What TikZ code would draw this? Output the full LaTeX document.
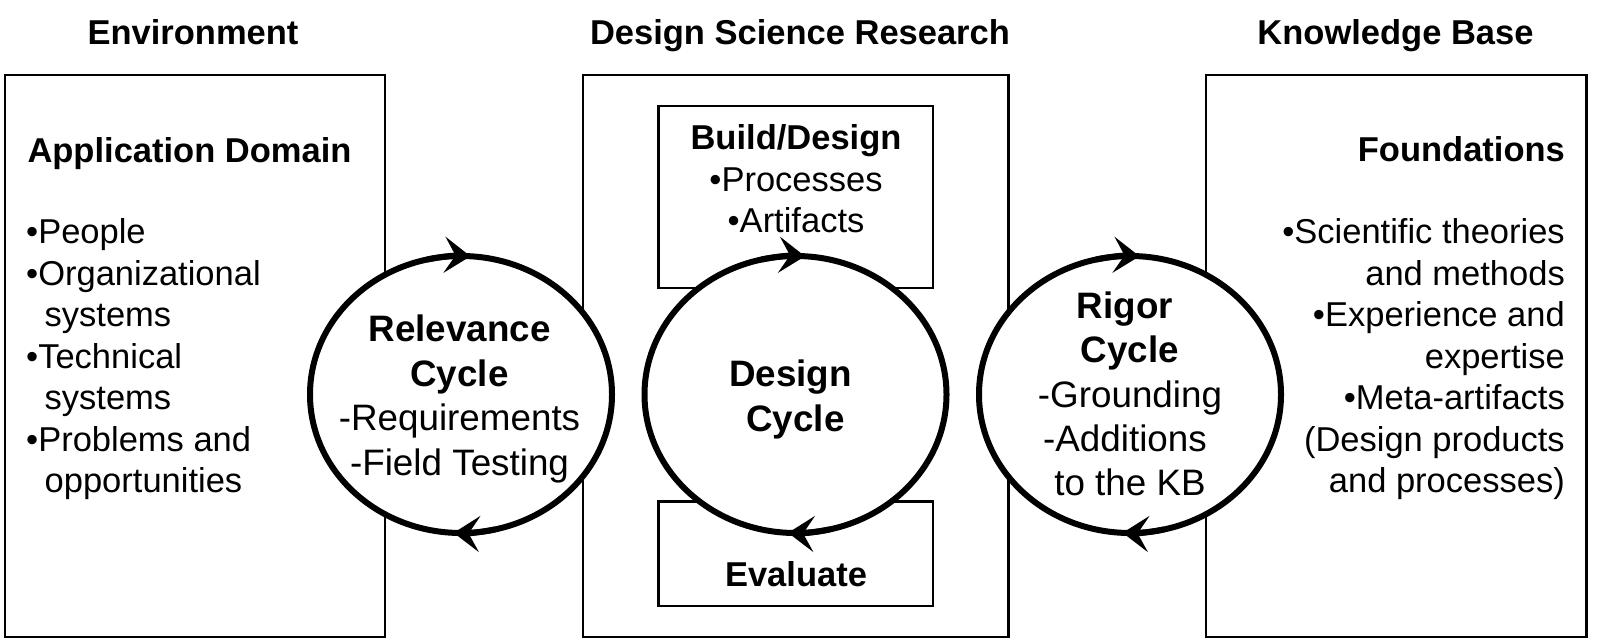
\documentclass[tikz,border=0pt]{standalone}
\usepackage{fontspec}
\setmainfont{Liberation Sans}
\usetikzlibrary{shapes.geometric,arrows.meta}
\begin{document}
\begin{tikzpicture}[x=1pt,y=1pt,
  box/.style={draw, line width=2.2pt, inner sep=0pt},
  cyc/.style={ellipse, draw, line width=6pt, fill=white, inner sep=0pt, minimum width=302pt, minimum height=277pt},
  cycarrow/.style={line width=6pt, -{Stealth[length=26pt,width=36pt,inset=11pt]}},
  txt/.style={inner sep=0pt, font=\fontsize{34.5pt}{41.5pt}\selectfont},
  ctxt/.style={inner sep=0pt, font=\fontsize{36.8pt}{44.4pt}\selectfont}]
\useasboundingbox (0,0) rectangle (1600,640);
% headers
\node[txt, anchor=base] (henv) at (193,595) {\bfseries Environment};
\node[txt, anchor=base] (hdsr) at (800,595) {\bfseries Design Science Research};
\node[txt, anchor=base] (hkb) at (1395.5,595) {\bfseries Knowledge Base};
% boxes
\node[box, minimum width=380pt, minimum height=562pt] (env) at (195,284) {};
\node[box, minimum width=425.5pt, minimum height=562pt] (dsr) at (795.75,284) {};
\node[box, minimum width=380.5pt, minimum height=562pt] (kb) at (1396.25,284) {};
\node[box, minimum width=274.5pt, minimum height=182pt] (build) at (795.75,443) {};
\node[box, minimum width=274.5pt, minimum height=104.5pt] (eval) at (795.75,86.25) {};
% cycles
\node[cyc] (rel) at (461,245.5) {};
\node[cyc] (des) at (795.5,245.5) {};
\node[cyc] (rig) at (1130,245.5) {};
\foreach \c in {rel,des,rig} {
  \draw[cycarrow] (\c.center) ++(103:151pt and 138.5pt)
    arc[start angle=103, end angle=86.4, x radius=151pt, y radius=138.5pt];
  \draw[cycarrow] (\c.center) ++(283:151pt and 138.5pt)
    arc[start angle=283, end angle=267.2, x radius=151pt, y radius=138.5pt];
}
% environment text
\node[txt, anchor=base west] (appdom) at (27.3,477.7) {\bfseries Application Domain};
\node[txt, anchor=base west] (envlist) at (26,396) {\begin{tabular}[t]{@{}l@{}}•People\\•Organizational\\\hspace*{18.5pt}systems\\•Technical\\\hspace*{18.5pt}systems\\•Problems and\\\hspace*{18.5pt}opportunities\end{tabular}};
% knowledge base text
\node[txt, anchor=base east] (found) at (1565,478) {\bfseries Foundations};
\node[txt, anchor=base east] (kblist) at (1565,396) {\begin{tabular}[t]{@{}r@{}}•Scientific theories\\and methods\\•Experience and\\expertise\\•Meta-artifacts\\(Design products\\and processes)\end{tabular}};
% design science text
\node[txt, anchor=base] (buildtxt) at (796,490) {\begin{tabular}[t]{@{}c@{}}\bfseries Build/Design\\•Processes\\•Artifacts\end{tabular}};
\node[txt, anchor=base] (evaltxt) at (796,53.3) {\bfseries Evaluate};
% cycle texts
\node[ctxt, anchor=base] (reltxt) at (459.5,298) {\begin{tabular}[t]{@{}c@{}}\bfseries Relevance\\\bfseries Cycle\\-Requirements\\-Field Testing\end{tabular}};
\node[ctxt, anchor=base] (destxt) at (795.5,253.3) {\begin{tabular}[t]{@{}c@{}}\bfseries Design\rule{10pt}{0pt}\\\bfseries Cycle\end{tabular}};
\node[ctxt, anchor=base] (rigtxt) at (1130,321.7) {\begin{tabular}[t]{@{}c@{}}\bfseries Rigor\rule{10pt}{0pt}\\\bfseries Cycle\\-Grounding\\-Additions\rule{10pt}{0pt}\\to the KB\end{tabular}};
\end{tikzpicture}
\end{document}
